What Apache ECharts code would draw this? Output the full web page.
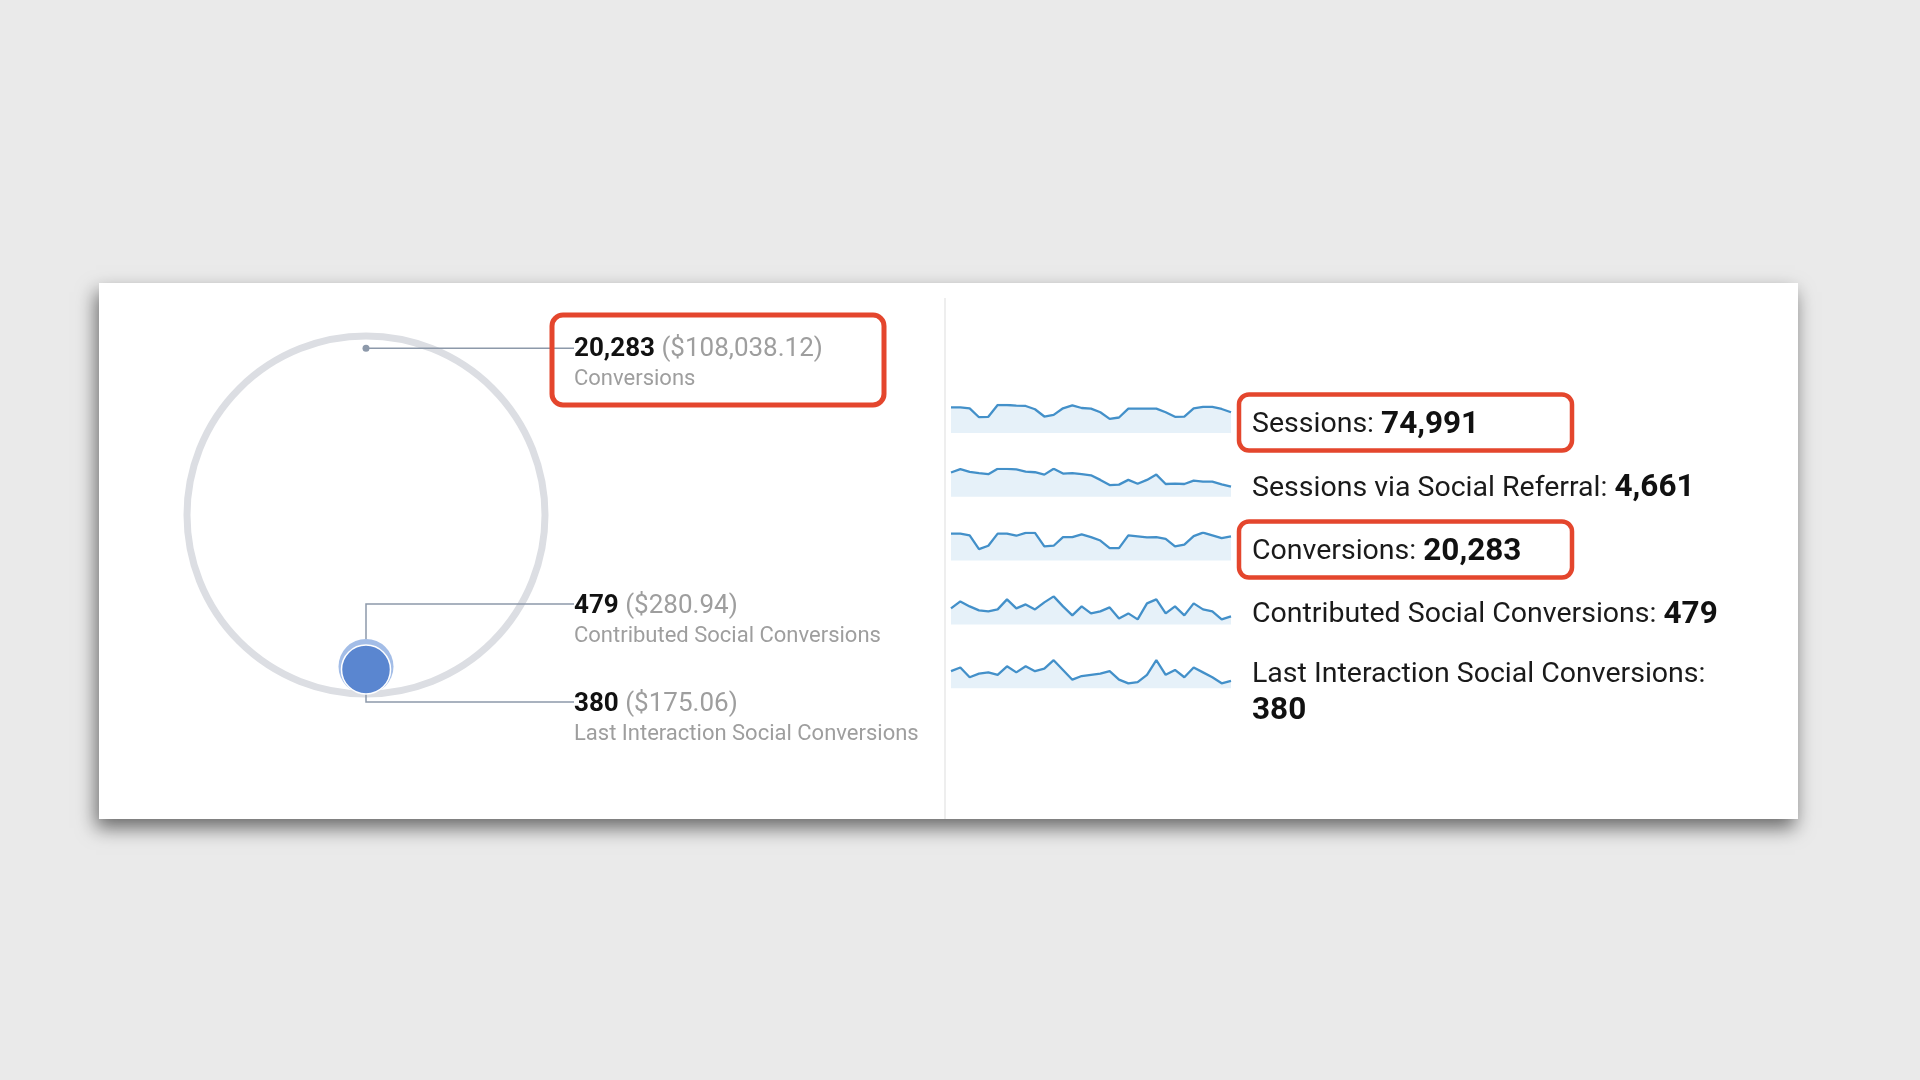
<!DOCTYPE html>
<html>
<head>
<meta charset="utf-8">
<script src="https://cdn.jsdelivr.net/npm/echarts@6/dist/echarts.min.js"></script>
<style>
html,body{margin:0;padding:0;background:#eaeaea;}
#chart{width:1920px;height:1080px;}
</style>
</head>
<body>
<div id="chart"></div>
<script>
// ---- Data ----
const funnelNames = ['Conversions', 'Contributed Social Conversions', 'Last Interaction Social Conversions'];
const funnelValues = [20283, 479, 380];
const funnelValueText = ['20,283', '479', '380'];
const funnelMoney = ['($108,038.12)', '($280.94)', '($175.06)'];

const days = ['1','2','3','4','5','6','7','8','9','10','11','12','13','14','15','16','17','18','19','20','21','22','23','24','25','26','27','28','29','30','31'];
const sessions = [2650,2650,2550,1630,1670,2890,2890,2820,2790,2450,1700,1870,2550,2860,2580,2520,2140,1460,1600,2520,2520,2520,2520,2140,1670,1700,2550,2690,2690,2480,2140];
const socialSessions = [184,209,189,179,171,212,212,207,191,186,168,212,176,179,171,163,128,89,92,128,99,128,168,97,99,97,122,115,115,94,77];
const conversions = [801,801,750,339,442,801,801,739,822,822,421,442,698,698,781,698,596,370,370,750,719,688,698,647,421,472,729,832,750,668,719];
const contributed = [16,23,18,14,13,15,25,16,20,15,22,28,18,9,18,11,13,17,6,11,5,21,25,11,18,9,21,15,13,5,8];
const lastInteraction = [14,17,9,12,13,11,18,13,18,14,16,23,15,7,10,11,12,14,7,4,5,11,23,11,15,9,17,13,9,4,6];

const metricNames = ['Sessions', 'Sessions via Social Referral', 'Conversions', 'Contributed Social Conversions', 'Last Interaction Social Conversions'];
const metricTotals = ['74,991', '4,661', '20,283', '479', '380'];
const metricSeries = [sessions, socialSessions, conversions, contributed, lastInteraction];
const highlighted = [true, false, true, false, false];

// ---- Layout / style ----
const FONT = 'Roboto, "Noto Sans", sans-serif';
const RED = '#e4462d';
const LINE_BLUE = '#4390c9';
const AREA_BLUE = '#e6f1f9';
const CONNECT = '#8d99aa';
const labelX = 574;

const chart = echarts.init(document.getElementById('chart'), null, {renderer: 'canvas'});

const grids = [{left: 187, top: 336, width: 358, height: 358}];
const xAxes = [{gridIndex: 0, type: 'value', min: -1, max: 1, show: false}];
const yAxes = [{gridIndex: 0, type: 'value', min: -1, max: 1, show: false}];
const series = [];

metricSeries.forEach((arr, i) => {
  const gi = i + 1;
  grids.push({left: 951, width: 280, top: 405 + 63.8 * i, height: 28});
  xAxes.push({gridIndex: gi, type: 'category', data: days, boundaryGap: false, show: false});
  yAxes.push({gridIndex: gi, type: 'value', min: 0, max: 'dataMax', show: false});
  series.push({
    type: 'line', xAxisIndex: gi, yAxisIndex: gi, data: arr,
    symbol: 'none', silent: true,
    lineStyle: {color: LINE_BLUE, width: 2.3},
    areaStyle: {color: AREA_BLUE, opacity: 1},
    z: 3
  });
});

// proportional circles
series.push({
  type: 'custom',
  xAxisIndex: 0, yAxisIndex: 0,
  coordinateSystem: 'cartesian2d',
  data: funnelValues.map(v => [v]),
  encode: {x: 0, y: 0},
  clip: false,
  z: 5,
  renderItem: function (params, api) {
    const i = params.dataIndex;
    const v = api.value(0);
    const r = Math.sqrt(v / funnelValues[0]);
    const rpx = api.size([r, r])[0];
    const children = [];
    if (i === 0) {
      const c = api.coord([0, 0]);
      children.push({type: 'circle', shape: {cx: c[0], cy: c[1], r: rpx},
        style: {fill: 'none', stroke: '#dcdee3', lineWidth: 7}, z2: 1});
      const d = api.coord([0, 1 - 0.068]);
      children.push({type: 'line', shape: {x1: d[0], y1: d[1], x2: labelX, y2: d[1]},
        style: {stroke: CONNECT, lineWidth: 1.5}, z2: 2});
      children.push({type: 'circle', shape: {cx: d[0], cy: d[1], r: 3.5},
        style: {fill: CONNECT}, z2: 3});
    } else if (i === 1) {
      const c = api.coord([0, -1 + r]);
      const top = api.coord([0, -1 + 2 * r]);
      children.push({type: 'polyline', shape: {points: [[top[0], top[1]], [top[0], 604], [labelX, 604]]},
        style: {fill: 'none', stroke: CONNECT, lineWidth: 1.5}, z2: 2});
      children.push({type: 'circle', shape: {cx: c[0], cy: c[1], r: rpx},
        style: {fill: '#a3bde7'}, z2: 4});
    } else {
      const c = api.coord([0, -1 + r]);
      const bot = api.coord([0, -1]);
      children.push({type: 'polyline', shape: {points: [[bot[0], bot[1]], [bot[0], 702], [labelX, 702]]},
        style: {fill: 'none', stroke: CONNECT, lineWidth: 1.5}, z2: 2});
      children.push({type: 'circle', shape: {cx: c[0], cy: c[1], r: rpx},
        style: {fill: '#5a86d0', stroke: '#ffffff', lineWidth: 1.5}, z2: 5});
    }
    return {type: 'group', children: children};
  }
});

// graphics
const graphics = [];
graphics.push({type: 'rect', z: -10, shape: {x: 99, y: 283, width: 1699, height: 536},
  style: {fill: '#ffffff', shadowBlur: 18, shadowOffsetX: -3, shadowOffsetY: 9, shadowColor: 'rgba(0,0,0,0.55)'}});
graphics.push({type: 'line', z: -5, shape: {x1: 945, y1: 298, x2: 945, y2: 819},
  style: {stroke: '#e8e8e8', lineWidth: 1.5}});

// left labels
const leftY = [349, 606, 704];
funnelNames.forEach((n, i) => {
  graphics.push({type: 'text', z: 10, style: {
    x: labelX, y: leftY[i], verticalAlign: 'middle', align: 'left',
    text: '{b|' + funnelValueText[i] + '}{g| ' + funnelMoney[i] + '}',
    rich: {
      b: {fontFamily: FONT, fontSize: 26, fontWeight: 'bold', fill: '#111111'},
      g: {fontFamily: FONT, fontSize: 26, fill: '#9e9e9e'}
    }
  }});
  graphics.push({type: 'text', z: 10, style: {
    x: labelX, y: leftY[i] + 30, verticalAlign: 'middle', align: 'left',
    text: n, fontFamily: FONT, fontSize: 22, fill: '#9e9e9e'
  }});
});
graphics.push({type: 'rect', z: 11, shape: {x: 552, y: 315, width: 332, height: 90, r: 11},
  style: {fill: 'none', stroke: RED, lineWidth: 5}});

// right labels
const rightY = [425, 488.5, 552, 615, 693];
metricNames.forEach((n, i) => {
  graphics.push({type: 'text', z: 10, style: {
    x: 1252, y: rightY[i], verticalAlign: 'middle', align: 'left',
    text: '{l|' + n + ':' + (i === 4 ? '' : ' ') + '}' + (i === 4 ? '\n' : '') + '{b|' + metricTotals[i] + '}',
    rich: {
      l: {fontFamily: FONT, fontSize: 28.5, fill: '#1a1a1a', lineHeight: 36},
      b: {fontFamily: FONT, fontSize: 31.5, fontWeight: 'bold', fill: '#111111', lineHeight: 36}
    }
  }});
  if (highlighted[i]) {
    graphics.push({type: 'rect', z: 11, shape: {x: 1239, y: rightY[i] - 30.5, width: 333, height: 56, r: 10},
      style: {fill: 'none', stroke: RED, lineWidth: 4.5}});
  }
});

chart.setOption({
  backgroundColor: '#eaeaea',
  animation: false,
  grid: grids,
  xAxis: xAxes,
  yAxis: yAxes,
  series: series,
  graphic: {elements: graphics}
});
</script>
</body>
</html>
